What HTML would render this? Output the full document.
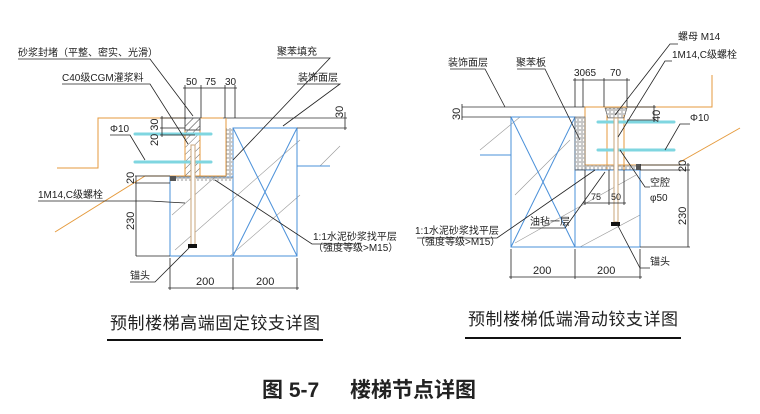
<!DOCTYPE html>
<html><head><meta charset="utf-8"><style>
html,body{margin:0;padding:0;background:#fff;}
svg{display:block;}
text{font-family:"Liberation Sans","Noto Sans CJK SC",sans-serif;fill:#222;}
</style></head><body>
<svg width="760" height="414" viewBox="0 0 760 414" xmlns="http://www.w3.org/2000/svg">
<defs>
<pattern id="h" width="5" height="5" patternUnits="userSpaceOnUse" patternTransform="rotate(45)"><line x1="0" y1="0" x2="0" y2="5" stroke="#666" stroke-width="1"/></pattern>
<pattern id="d" width="4" height="4" patternUnits="userSpaceOnUse"><circle cx="2" cy="2" r="1.2" fill="none" stroke="#777" stroke-width="0.6"/></pattern>
</defs>
<g stroke-width="1" fill="none">
<!-- LEFT FIGURE -->
<g stroke="#999" stroke-width="0.6">
<line x1="175" y1="250" x2="300" y2="140"/><line x1="230" y1="256" x2="300" y2="195"/><line x1="172" y1="215" x2="215" y2="177"/><line x1="320" y1="166" x2="340" y2="146"/>
</g>
<g stroke="#4a90d9">
<rect x="170" y="177" width="63" height="79"/>
<rect x="233" y="128" width="64" height="128"/>
<line x1="233" y1="128" x2="297" y2="256"/><line x1="297" y1="128" x2="233" y2="256"/>
<line x1="297" y1="166" x2="330" y2="166"/>
</g>
<g stroke="#333" stroke-width="0.8">
<line x1="223" y1="118" x2="347" y2="118"/><line x1="297" y1="128" x2="347" y2="128"/>
</g>
<g stroke="#e59a3c">
<polyline points="57,168 98,168 98,118 223,118"/>
<line x1="145" y1="176" x2="226" y2="176"/>
<line x1="226" y1="118" x2="226" y2="176"/>
<line x1="145" y1="176" x2="55" y2="232"/>
</g>
<rect x="185" y="118" width="15" height="58" fill="url(#h)" stroke="#e59a3c"/>
<rect x="185" y="118" width="15" height="12" fill="url(#h)" stroke="#555"/>
<rect x="226" y="128" width="7" height="48" fill="url(#d)"/>
<rect x="176" y="176" width="57" height="5" fill="url(#d)"/>
<rect x="170" y="176" width="6" height="5" fill="#555"/>
<g stroke="#7fd6e0" stroke-width="3" stroke-linecap="round"><line x1="135" y1="134" x2="211" y2="134"/><line x1="135" y1="162" x2="211" y2="162"/></g>
<rect x="191" y="145" width="4" height="101" stroke="#c9a57a" fill="#fff"/>
<rect x="188" y="244" width="9" height="4" fill="#111" stroke="none"/>
<g stroke="#222" stroke-width="0.8">
<line x1="183" y1="88" x2="237" y2="88"/>
<line x1="185" y1="85" x2="185" y2="118"/><line x1="201" y1="85" x2="201" y2="118"/><line x1="225" y1="85" x2="225" y2="118"/><line x1="235" y1="85" x2="235" y2="118"/>
<line x1="345" y1="112" x2="345" y2="130"/>
<line x1="162" y1="116" x2="162" y2="137"/>
<line x1="160" y1="118" x2="185" y2="118"/><line x1="160" y1="128" x2="185" y2="128"/><line x1="160" y1="135" x2="195" y2="135"/>
<line x1="135" y1="176" x2="170" y2="176"/><line x1="135" y1="183" x2="170" y2="183"/>
<line x1="136" y1="176" x2="136" y2="256"/><line x1="136" y1="256" x2="170" y2="256"/>
<line x1="170" y1="258" x2="170" y2="290"/><line x1="233" y1="258" x2="233" y2="290"/><line x1="297" y1="258" x2="297" y2="290"/>
<line x1="168" y1="288" x2="299" y2="288"/>
<polyline points="18,59 150,59 193,116"/>
<polyline points="62,84 150,84 188,144"/>
<polyline points="277,58 330,58 233,160"/>
<polyline points="297,84 340,84 283,126"/>
<polyline points="110,135 130,135 145,160"/>
<polyline points="38,201 150,201 185,203"/>
<polyline points="130,282 155,282 190,247"/>
<polyline points="360,244 312,244 215,180"/>
</g>
<g font-size="10">
<text x="18" y="56">砂浆封堵（平整、密实、光滑）</text>
<text x="62" y="81">C40级CGM灌浆料</text>
<text x="277" y="55">聚苯填充</text>
<text x="298" y="81">装饰面层</text>
<text x="110" y="132">Φ10</text>
<text x="38" y="198">1M14,C级螺栓</text>
<text x="130" y="279">锚头</text>
<text x="313" y="240">1:1水泥砂浆找平层</text>
<text x="313" y="251">（强度等级&gt;M15）</text>
<text x="186" y="85">50</text><text x="205" y="85">75</text><text x="225" y="85">30</text>
<text x="196" y="285" font-size="11">200</text><text x="256" y="285" font-size="11">200</text>
<text transform="translate(343,118) rotate(-90)" font-size="11">30</text>
<text transform="translate(158,146) rotate(-90)" font-size="11">20 30</text>
<text transform="translate(134,184) rotate(-90)" font-size="11">20</text>
<text transform="translate(134,230) rotate(-90)" font-size="11">230</text>
</g>

<!-- RIGHT FIGURE -->
<g stroke="#999" stroke-width="0.6">
<line x1="515" y1="243" x2="636" y2="175"/><line x1="515" y1="195" x2="570" y2="140"/><line x1="480" y1="150" x2="520" y2="117"/><line x1="580" y1="247" x2="640" y2="215"/>
</g>
<g stroke="#4a90d9">
<rect x="511" y="117" width="64" height="130"/>
<rect x="575" y="170" width="65" height="77"/>
<line x1="511" y1="117" x2="575" y2="247"/><line x1="575" y1="117" x2="511" y2="247"/>
<line x1="480" y1="155" x2="511" y2="155"/>
</g>
<g stroke="#333" stroke-width="0.8"><line x1="462" y1="107" x2="585" y2="107"/><line x1="462" y1="117" x2="511" y2="117"/></g>
<g stroke="#e59a3c">
<polyline points="585,107 712,107 712,75"/>
<polyline points="585,107 585,165 680,165"/>
<line x1="680" y1="162" x2="740" y2="128"/>
<line x1="607" y1="115" x2="607" y2="170"/><line x1="624" y1="115" x2="624" y2="170"/>
</g>
<rect x="575" y="117" width="10" height="53" fill="url(#d)" stroke="#555" stroke-width="0.6"/>
<rect x="585" y="165" width="55" height="5" fill="url(#d)"/>
<polygon points="605,108 627,108 624,118 608,118" fill="url(#d)" stroke="#555" stroke-width="0.6"/>
<rect x="636" y="164" width="5" height="6" fill="#555"/>
<g stroke="#7fd6e0" stroke-width="3" stroke-linecap="round"><line x1="598" y1="122" x2="674" y2="122"/><line x1="598" y1="150" x2="674" y2="150"/></g>
<rect x="614" y="118" width="4" height="104" stroke="#c9a57a" fill="#fff"/>
<rect x="611" y="222" width="9" height="4" fill="#111"/>
<g stroke="#222" stroke-width="0.8">
<line x1="573" y1="80" x2="630" y2="80"/>
<line x1="575" y1="78" x2="575" y2="107"/><line x1="583" y1="78" x2="583" y2="107"/><line x1="604" y1="78" x2="604" y2="107"/><line x1="627" y1="78" x2="627" y2="107"/>
<line x1="462" y1="104" x2="462" y2="120"/>
<line x1="627" y1="107" x2="656" y2="107"/><line x1="627" y1="120" x2="656" y2="120"/><line x1="654" y1="105" x2="654" y2="122"/>
<line x1="640" y1="165" x2="690" y2="165"/><line x1="640" y1="170" x2="690" y2="170"/>
<line x1="688" y1="163" x2="688" y2="247"/><line x1="640" y1="247" x2="690" y2="247"/>
<line x1="585" y1="170" x2="585" y2="205"/><line x1="609" y1="170" x2="609" y2="205"/><line x1="624" y1="170" x2="624" y2="205"/>
<line x1="583" y1="203" x2="626" y2="203"/>
<line x1="511" y1="249" x2="511" y2="279"/><line x1="575" y1="249" x2="575" y2="279"/><line x1="640" y1="249" x2="640" y2="279"/>
<line x1="509" y1="277" x2="642" y2="277"/>
<polyline points="450,69 485,69 505,107"/>
<polyline points="517,69 545,69 580,140"/>
<polyline points="678,44 670,44 615,115"/>
<polyline points="672,61 665,61 618,137"/>
<polyline points="690,124 680,124 665,150"/>
<polyline points="650,187 645,187 620,150"/>
<polyline points="417,238 497,238 595,170"/>
<polyline points="530,228 565,228 605,172"/>
<polyline points="650,268 640,268 617,224"/>
</g>
<g font-size="10">
<text x="448" y="66">装饰面层</text>
<text x="516" y="66">聚苯板</text>
<text x="678" y="40">螺母 M14</text>
<text x="672" y="58">1M14,C级螺栓</text>
<text x="690" y="121">Φ10</text>
<text x="650" y="186">空腔</text>
<text x="650" y="201">φ50</text>
<text x="591" y="200" font-size="9">75</text><text x="611" y="200" font-size="9">50</text>
<text x="530" y="225">油毡一层</text>
<text x="415" y="234">1:1水泥砂浆找平层</text>
<text x="415" y="245">（强度等级&gt;M15）</text>
<text x="650" y="265">锚头</text>
<text x="574" y="76">30</text><text x="585" y="76">65</text><text x="610" y="76">70</text>
<text x="533" y="274" font-size="11">200</text><text x="597" y="274" font-size="11">200</text>
<text transform="translate(460,120) rotate(-90)" font-size="11">30</text>
<text transform="translate(660,122) rotate(-90)" font-size="11">40</text>
<text transform="translate(686,172) rotate(-90)" font-size="11">20</text>
<text transform="translate(686,225) rotate(-90)" font-size="11">230</text>
</g>

<line x1="107" y1="340" x2="323" y2="340" stroke="#111" stroke-width="2"/>
<line x1="465" y1="338" x2="681" y2="338" stroke="#111" stroke-width="2"/>
</g>
<text x="110" y="329" font-size="17" textLength="210" font-family="'Noto Serif CJK SC',serif">预制楼梯高端固定铰支详图</text>
<text x="468" y="325" font-size="17" textLength="210" font-family="'Noto Serif CJK SC',serif">预制楼梯低端滑动铰支详图</text>
<text x="262" y="397" font-size="21" font-weight="bold" font-family="'Liberation Serif','Noto Serif CJK SC',serif">图 5-7</text>
<text x="350" y="397" font-size="21" font-weight="bold" font-family="'Noto Serif CJK SC',serif">楼梯节点详图</text>
</svg>
</body></html>
